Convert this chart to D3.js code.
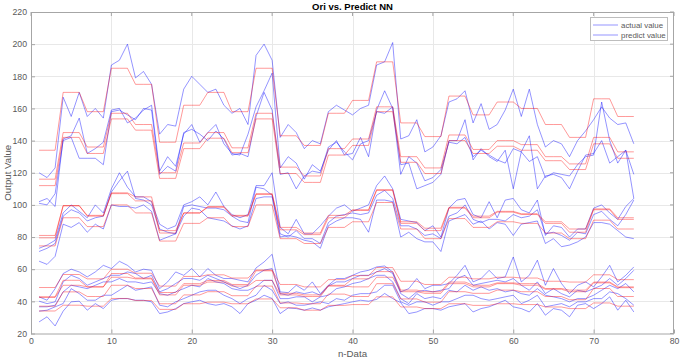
<!DOCTYPE html>
<html><head><meta charset="utf-8">
<script src="https://cdn.jsdelivr.net/npm/d3@7"></script>
<style>body{margin:0;background:#fff}svg{display:block}text{font-family:"Liberation Sans",Arial,sans-serif}</style>
</head><body><svg id="c" width="680" height="359"></svg>
<script>
// x index 1..75
const nData = d3.range(1, 76);
const xTicks = [0,10,20,30,40,50,60,70,80];
const yTicks = [20,40,60,80,100,120,140,160,180,200,220];
const legendLabels = ["actual value", "predict value"];

// actual values (blue)
const actTop1 = [120,117,123,167,155,170,155,160,154,187,190,200,179,183,175,144,150,149,172,180,175,170,172,162,157,160,150,193,200,190,142,150,145,135,140,138,158,162,159,156,160,162,187,189,201,141,143,153,133,136,143,164,166,171,151,163,147,150,159,172,155,172,150,136,140,138,130,140,146,153,161,154,150,151,138];
const actTop2 = [102,104,99,141,143,154,132,135,139,159,160,151,154,159,162,121,130,124,144,150,139,145,150,138,132,131,144,161,171,182,123,130,126,116,125,121,134,140,131,132,142,130,159,171,160,119,130,126,115,117,122,139,138,142,130,134,131,128,126,135,133,127,130,117,120,119,118,125,130,131,164,140,126,134,119];
const actTop3 = [101,100,107,140,142,129,129,129,125,158,159,156,153,160,159,119,124,121,145,147,144,140,146,141,131,132,130,155,170,159,119,120,110,118,121,120,136,139,133,128,138,140,158,157,161,125,126,110,112,114,119,140,140,153,128,135,130,127,134,110,133,143,110,118,119,117,110,121,131,132,140,126,130,134,104];
const actMid1 = [73,75,78,95,100,96,92,100,95,110,120,111,105,105,102,88,85,87,100,102,105,100,108,99,94,92,94,112,112,120,86,82,91,82,82,87,93,98,100,96,98,100,112,118,110,91,90,89,84,87,80,98,103,104,94,92,102,92,103,104,97,95,103,81,87,86,80,85,85,98,100,95,91,99,104];
const actMid2 = [71,73,76,93,97,95,90,92,93,108,115,121,104,103,100,85,83,82,99,100,99,98,98,97,93,90,89,111,110,106,82,80,84,79,79,76,89,93,94,95,94,95,106,109,104,87,87,85,81,82,79,93,95,100,91,89,91,91,90,94,92,93,97,82,83,81,78,83,82,94,96,91,87,94,103];
const actMid3 = [65,63,68,88,86,89,83,88,85,100,99,99,98,100,96,78,80,82,93,98,97,92,91,90,87,85,87,104,105,105,80,81,80,78,77,73,87,90,92,92,91,83,103,103,102,80,83,79,77,77,71,90,92,94,88,90,85,89,88,81,88,89,90,76,79,74,75,77,80,89,89,88,84,80,79];
const actLow1 = [42.8,40.7,47.9,57.3,60,58.3,55.2,58.3,62.4,60.4,64.9,62.4,58.3,60,59.3,47.9,52.1,58.3,56.2,60.4,55.2,60.4,56.2,54.2,54.2,53.1,52.1,60.8,64.5,69.3,45.9,45.4,50,46.9,52.1,44.8,50,54.2,54.2,56.2,58.3,59.3,61.4,62,58.3,45.9,47.9,54.2,47.9,50,50,51.1,56.2,62.4,52.1,54.2,59.3,54.2,55.2,67.6,52.1,56.2,65.6,50,60.4,51.1,44.8,50,52.1,49,55.2,62.4,52.1,56.2,61.4];
const actLow2 = [40.1,38.6,39.7,52.1,56.2,54.2,50,52.1,54.2,56.2,56.2,58.3,57.3,54.2,56.2,45.9,47.9,51.1,54.2,54.2,53.1,56.2,54.2,52.1,50,47.9,50,56.3,59.4,60.4,44.8,43.8,45.9,44.8,45.9,43.8,49.5,52.1,52.1,54.2,56.2,56.2,58.3,60.4,57.3,44.8,41.7,45.9,46.9,45.9,46.9,47.9,54.2,56.2,50,51.1,52.1,53.1,52.1,54.2,50,46.9,52.1,44.8,47.9,44.8,42.8,46.9,45.9,47.9,50,54.2,50,54.2,59.3];
const actLow3 = [36.6,36.6,37.6,45.9,50,49,47.9,50,52.1,52.1,54.2,52.1,52.1,51.1,52.1,44.8,43.8,45.9,47.9,50,49,54.2,52.1,51.1,47.9,46.9,46.9,49,53.1,53.1,41.7,41.7,42.8,42.8,39.7,42.8,43.8,47.9,49,51.1,52.1,54.2,56.2,56.2,52.1,41.7,38.6,44.8,41.7,42.8,41.7,46.9,45.9,50,46.9,49,46.9,47.9,45.9,46.9,44.8,43.8,47.9,43.8,42.8,41.7,39.7,41.7,41.7,43.8,46.9,50,47.9,51.1,45.9];
const actLow4 = [33.9,34.5,36.6,38.6,47.9,44.8,40.7,40.7,43.8,43.8,46.9,50,46.9,47.9,49,37.6,36.6,39.7,41.7,43.8,45.9,46.9,46.9,43.8,41.7,38.6,41.7,43.8,50,46.9,38.6,39.7,37.6,37.6,38.6,39.7,38.6,41.7,40.7,43.8,44.8,44.8,45.9,50,50,39.7,37.6,39.7,39.7,37.6,39.7,39.7,41.7,43.8,43.8,41.7,40.7,41.7,42.8,43.8,38.6,40.7,43.8,36.6,37.6,38.6,36.6,39.7,39.7,41.7,41.7,45.9,44.8,41.7,37.6];
const actLow5 = [27.2,30.4,24.7,33.9,39.7,40.1,34.5,38.6,35.5,40.7,41.7,41.7,40.7,40.7,39.7,32.4,33.4,35.5,38.6,39.7,40.7,38.6,37.6,38.6,36.6,32.4,38.6,40.7,43.8,41.8,32.4,35.9,35.5,34.5,35.9,34.5,36.6,37.6,38.6,39.7,40.7,40.1,41.2,44.9,41.7,39.2,32.4,33.4,35.5,35.5,34.5,36.6,37.6,38.6,33.4,35.5,36.6,38.6,40.7,36.6,35.5,33.4,38.6,31.4,35.5,34.5,30.4,37.6,38.6,35.5,38.6,42.8,34.5,40.7,33.4];

// predicted values (red): one level per block of three consecutive samples
const predTop1 = [134,170,158,185,175,139,162,170,158,185,143,137,157,165,189,151,142.5,167.7,156,164,160,150,142,166,155];
const predTop2 = [116,145,136,157,150,120,138.5,145,135.5,157,123.5,118,135,141,161,130,123,143.5,134.5,140,137.5,130,125.5,142,133];
const predTop3 = [112,142,132,153.5,146.5,116.5,135,141.5,132.5,153.5,119.5,114,131,137,158,126.5,119.5,140,132,136.5,134,127.5,122,138,129];
const predMid1 = [81,99.5,93.5,107.5,105,84,95,99,93.5,107,86,82.5,93.5,97,109.5,89.5,85.5,98.5,93,96,94.5,89.5,85,97.5,92];
const predMid2 = [79.5,99.5,93,107,102.5,82.5,95,98.5,93,106.5,84.5,81.5,92,96.5,109,88.5,84,98,92,95.5,94,88.5,83,97,91];
const predMid3 = [74.5,92,86.5,100,95,77.5,88.5,92,86.5,100,79,76,86,89.5,101.5,85,79,91.5,86,89.5,88.5,82.5,79,90.5,85];
const predLow1 = [48.6,56.7,54,60,57.5,49.5,55.5,56.5,54.5,59.5,50.5,49,53.5,56,61,52.5,50.5,55,54,55,54.5,52.5,52,56.5,53.5];
const predLow2 = [42.8,53.1,49,57.3,54.5,45.5,51,53,50.5,59,45,44,50,54,58.5,47,46,52,50,51.5,51,48,47,52,49];
const predLow3 = [42.5,50,49,55,54,44,50,52,49.5,53,44,43,49.5,49,55,46,45,51,49,51,50,47.5,46,51.5,48.5];
const predLow4 = [37,45.9,43,50,48,38.5,44,46,43.5,49.5,39,38.5,44.5,43,51,41.5,39.5,46,45,47,46,43,41,48,43];
const predLow5 = [34,37.6,37,41.8,40.5,35,38.5,39.5,38.5,41.5,36,34.5,37.5,38,42.8,36.5,35.5,38.5,37.5,38.5,38,36.5,35.5,39,37];

const actual = [actTop1,actTop2,actTop3,actMid1,actMid2,actMid3,actLow1,actLow2,actLow3,actLow4,actLow5];
const predBlocks = [predTop1,predTop2,predTop3,predMid1,predMid2,predMid3,predLow1,predLow2,predLow3,predLow4,predLow5];
const predicted = predBlocks.map(b => nData.map((n, i) => b[Math.floor(i / 3)]));

const L = 31, R = 674, T = 12, B = 333.5;
const svg = d3.select("#c");
const x = d3.scaleLinear().domain([0, 80]).range([L, R]);
const y = d3.scaleLinear().domain([20, 220]).range([B, T]);

// grid
const g = svg.append("g");
g.selectAll(".gx").data(xTicks.slice(1, -1)).enter().append("line")
  .attr("x1", d => Math.round(x(d)) + 0.5).attr("x2", d => Math.round(x(d)) + 0.5)
  .attr("y1", T).attr("y2", B).attr("stroke", "#e8e8e8").attr("stroke-width", 1);
g.selectAll(".gy").data(yTicks.slice(1, -1)).enter().append("line")
  .attr("y1", d => Math.round(y(d)) + 0.5).attr("y2", d => Math.round(y(d)) + 0.5)
  .attr("x1", L).attr("x2", R).attr("stroke", "#e8e8e8").attr("stroke-width", 1);

const line = d3.line().x((d, i) => x(nData[i])).y(d => y(d));
svg.append("clipPath").attr("id", "pc").append("rect")
  .attr("x", L).attr("y", T).attr("width", R - L).attr("height", B - T);
const plot = svg.append("g").attr("clip-path", "url(#pc)");
plot.selectAll(".act").data(actual).enter().append("path")
  .attr("d", line).attr("fill", "none").attr("stroke", "rgb(0,0,255)")
  .attr("stroke-opacity", 0.42).attr("stroke-width", 1);
plot.selectAll(".pred").data(predicted).enter().append("path")
  .attr("d", line).attr("fill", "none").attr("stroke", "rgb(255,0,0)")
  .attr("stroke-opacity", 0.4).attr("stroke-width", 1);

// axes (MATLAB-like box)
const axCol = "#a6a6a6";
const xAxis = d3.axisBottom(x).tickValues(xTicks).tickSizeInner(-4).tickSizeOuter(0).tickPadding(4.5);
const yAxis = d3.axisLeft(y).tickValues(yTicks).tickSizeInner(-4).tickSizeOuter(0).tickPadding(4);
const gx = svg.append("g").attr("transform", `translate(0,${B})`).call(xAxis);
const gy = svg.append("g").attr("transform", `translate(${L},0)`).call(yAxis);
[gx, gy].forEach(a => {
  a.select(".domain").remove();
  a.selectAll("line").attr("stroke", axCol);
  a.selectAll("text").attr("fill", "#595959").style("font-size", "8.7px");
});
svg.append("rect").attr("x", L + 0.5).attr("y", T + 0.5).attr("width", R - L - 1).attr("height", B - T)
  .attr("fill", "none").attr("stroke", axCol).attr("stroke-width", 1);
svg.selectAll(".tt").data(xTicks).enter().append("line")
  .attr("x1", d => x(d)).attr("x2", d => x(d)).attr("y1", T).attr("y2", T + 4).attr("stroke", axCol);
svg.selectAll(".rt").data(yTicks).enter().append("line")
  .attr("y1", d => y(d)).attr("y2", d => y(d)).attr("x1", R - 4).attr("x2", R).attr("stroke", axCol);

// labels
svg.append("text").attr("x", (L + R) / 2).attr("y", 10).attr("text-anchor", "middle")
  .style("font-size", "9.5px").style("font-weight", "bold").attr("fill", "#000").text("Ori vs. Predict NN");
svg.append("text").attr("x", (L + R) / 2).attr("y", 357).attr("text-anchor", "middle")
  .style("font-size", "9.7px").attr("fill", "#595959").text("n-Data");
svg.append("text").attr("transform", `translate(11,${(T + B) / 2}) rotate(-90)`).attr("text-anchor", "middle")
  .style("font-size", "9.7px").attr("fill", "#595959").text("Output Value");

// legend
const lg = svg.append("g");
lg.append("rect").attr("x", 590.5).attr("y", 17.5).attr("width", 77).attr("height", 23)
  .attr("fill", "#fff").attr("stroke", "#bdbdbd");
legendLabels.forEach((t, i) => {
  const yy = 25 + i * 10;
  lg.append("line").attr("x1", 593).attr("x2", 618).attr("y1", yy).attr("y2", yy)
    .attr("stroke", "rgb(0,0,255)").attr("stroke-opacity", 0.42);
  lg.append("text").attr("x", 621).attr("y", yy + 3).style("font-size", "7.9px").attr("fill", "#595959").text(t);
});
</script></body></html>
